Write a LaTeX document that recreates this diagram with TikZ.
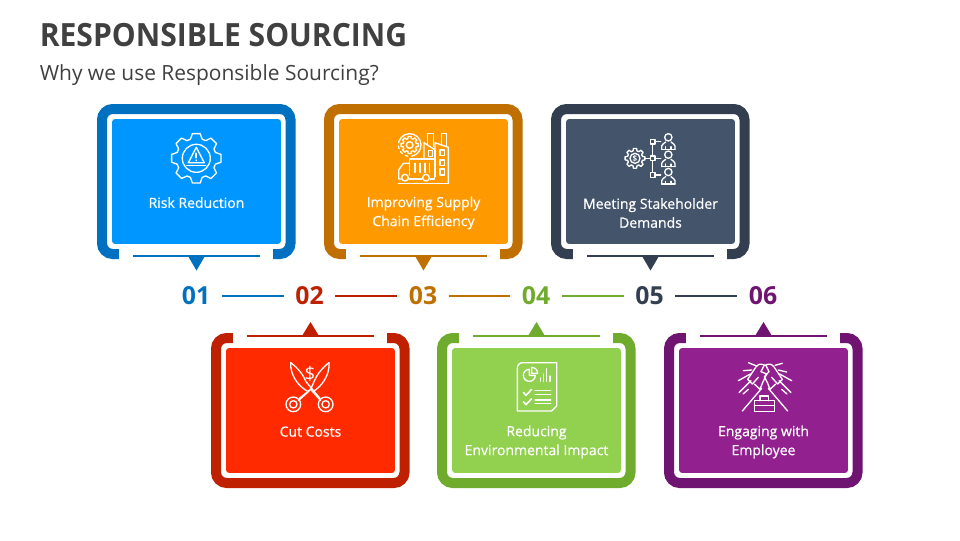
\documentclass[tikz,border=0pt]{standalone}
\usepackage{fontspec}
\setmainfont{Open Sans}
\newfontfamily\semib[FakeBold=0.6]{Open Sans}
\newfontfamily\titlef[FakeStretch=0.94]{Open Sans Bold}
\definecolor{dkA}{HTML}{0070C0}\definecolor{brA}{HTML}{0096FF}
\definecolor{dkB}{HTML}{BF2000}\definecolor{brB}{HTML}{FF2A00}
\definecolor{dkC}{HTML}{BF7000}\definecolor{brC}{HTML}{FF9900}
\definecolor{dkD}{HTML}{6FAC2E}\definecolor{brD}{HTML}{92D050}
\definecolor{dkE}{HTML}{333F50}\definecolor{brE}{HTML}{44546A}
\definecolor{dkF}{HTML}{6F1470}\definecolor{brF}{HTML}{92208F}
\definecolor{titlegray}{HTML}{404040}
\tikzset{
 panel/.style={rounded corners=2pt,inner sep=0pt,minimum width=126.5pt,minimum height=93.5pt},
 frame/.style={line width=7.5pt,rounded corners=8pt},
 caption/.style={text=white,font=\semib\fontsize{10.5}{14.2}\selectfont,align=center,inner sep=0pt},
 num/.style={font=\bfseries\fontsize{18.6}{20}\selectfont,minimum width=38pt,inner sep=0pt},
 link/.style={line width=1.4pt},
 ico/.style={draw=white,line width=1pt,line join=round,line cap=round},
 zoomed/.style={x=.25pt,y=-.25pt},
}
% #1 name, #2 left x, #3 dark, #4 bright, #5 text
\newcommand{\uppercard}[5]{%
 \draw[#3,frame] (#2+5,109) rectangle (#2+193.5,254);
 \fill[white] (#2+22,248) rectangle (#2+176,260);
 \node[panel,fill=#4] (#1) at (#2+99.5,181.5) {};
 \node[caption,anchor=center] (#1t) at (#2+99.5,213) {#5};
 \draw[#3,line width=1.5pt] (#2+36,256) -- (#2+163,256);
 \fill[#3] (#2+91,256) -- (#2+108,256) -- (#2+99.5,270.5) -- cycle;
}
\newcommand{\lowercard}[5]{%
 \draw[#3,frame] (#2+5,338) rectangle (#2+193.5,483);
 \fill[white] (#2+22,332) rectangle (#2+176,344);
 \node[panel,fill=#4] (#1) at (#2+99.5,410.5) {};
 \node[caption,anchor=center] (#1t) at (#2+99.5,442) {#5};
 \draw[#3,line width=1.5pt] (#2+36,336) -- (#2+163,336);
 \fill[#3] (#2+91,336) -- (#2+108,336) -- (#2+99.5,322) -- cycle;
}
\newcommand{\numtxt}[1]{\raisebox{-.4pt}{#1}}
\begin{document}
\begin{tikzpicture}[x=.75pt,y=-.75pt]
\useasboundingbox (0,0) rectangle (960,540);
\fill[white] (0,0) rectangle (960,540);
\node[anchor=base west,inner sep=0pt,text=titlegray,font=\titlef\fontsize{24}{28}\selectfont] (title) at (39.5,46) {RESPONSIBLE SOURCING};
\node[anchor=base west,inner sep=0pt,text=titlegray,font=\fontsize{15.7}{18}\selectfont] (sub) at (39.5,80.5) {Why we use Responsible Sourcing?};

\uppercard{cA}{97}{dkA}{brA}{Risk Reduction\\[1.5pt]\phantom{x}}
\uppercard{cC}{324}{dkC}{brC}{Improving Supply\\Chain Efficiency}
\uppercard{cE}{551}{dkE}{brE}{Meeting Stakeholder\\Demands}
\lowercard{cB}{211}{dkB}{brB}{Cut Costs\\[1.5pt]\phantom{x}}
\lowercard{cD}{437}{dkD}{brD}{Reducing\\Environmental Impact}
\lowercard{cF}{664}{dkF}{brF}{Engaging with\\Employee}

\node[num,text=dkA] (n1) at (196,296) {\numtxt{01}};
\node[num,text=dkB] (n2) at (309.5,296) {\numtxt{02}};
\node[num,text=dkC] (n3) at (423,296) {\numtxt{03}};
\node[num,text=dkD] (n4) at (536,296) {\numtxt{04}};
\node[num,text=dkE] (n5) at (649.5,296) {\numtxt{05}};
\node[num,text=dkF] (n6) at (763,296) {\numtxt{06}};
\draw[link,dkA] (n1) -- (n2);
\draw[link,dkB] (n2) -- (n3);
\draw[link,dkC] (n3) -- (n4);
\draw[link,dkD] (n4) -- (n5);
\draw[link,dkE] (n5) -- (n6);

% gear / warning
\begin{scope}[shift={(196.3,158.3)}]
 \draw[ico] \foreach \a in {0,45,...,315}{ (\a-17:20) -- (\a-9:25) -- (\a+9:25) -- (\a+17:20) -- (\a+28:20)};
 \draw[ico] (0,0) circle (14);
 \draw[ico] (0,-11) -- (8,4.5) -- (-8,4.5) -- cycle;
 \draw[ico,line width=1.3pt] (0,-5) -- (0,-.5); \fill[white] (0,2) circle (.9);
 \draw[ico] (-9.5,7.5) -- (9.5,7.5);
\end{scope}

% factory + truck
\begin{scope}[shift={(320,95)},zoomed]
 \draw[ico] (323,147) -- (323,115) -- (340,115) -- (340,155);
 \draw[ico] (365,150) -- (365,115) -- (380,115) -- (380,155);
 \draw[ico] (312,190) -- (312,143) -- (345,165) -- (345,143) -- (385,157) -- (385,265);
 \draw[ico] (345,165) -- (345,245);
 \draw[ico] (325,167) rectangle (338,185);
 \draw[ico] (360,165) rectangle (373,182);
 \draw[ico] (360,195) rectangle (373,212);
 \draw[ico] (360,222) rectangle (373,240);
 \draw[ico] (268,240) -- (268,192) -- (343,192) -- (343,252) -- (330,252);
 \foreach \x in {285,300,315,328} \draw[ico] (\x,205) -- (\x,232);
 \draw[ico] (268,205) -- (250,205) -- (236,225) -- (236,252) -- (244,252);
 \draw[ico] (266,252) -- (306,252);
 \draw[ico] (255,248) circle (10);
 \draw[ico] (318,248) circle (10);
 \draw[ico] (235,265) -- (385,265);
 \begin{scope}[shift={(269,150)}]
  \draw[ico] \foreach \a in {0,45,...,315}{ (\a-15:20) -- (\a-10:26) -- (\a+10:26) -- (\a+15:20) -- (\a+30:20)};
  \draw[ico] (0,0) circle (10);
  \draw[ico] (200:34) arc (200:440:34);
  \draw[ico,dash pattern=on 2pt off 2.5pt] (100:34) arc (100:200:34);
 \end{scope}
\end{scope}

% gear + people
\begin{scope}[shift={(600,120)},zoomed]
 \begin{scope}[shift={(105,115)}]
  \draw[ico] \foreach \a in {0,45,...,315}{ (\a-15:23) -- (\a-9:30) -- (\a+9:30) -- (\a+15:23) -- (\a+30:23)};
  \draw[ico] (0,0) circle (15);
  \node[text=white,font=\bfseries\fontsize{6}{6}\selectfont,inner sep=0pt] (dollarB) at (0,0) {\$};
 \end{scope}
 \draw[ico] (158,65) -- (158,165);
 \draw[ico] (135,115) -- (150,115);
 \foreach \y in {65,115,165}{
  \draw[ico,fill=brE] (151,\y-7) rectangle (165,\y+7);
  \draw[ico] (165,\y) -- (182,\y);
 }
 \foreach \y in {0,52,104}{
  \draw[ico] (205,52+\y) circle (11);
  \draw[ico] (185,88+\y) -- (185,78+\y) .. controls (185,72+\y) and (192,72+\y) .. (197,66+\y);
  \draw[ico] (225,88+\y) -- (225,78+\y) .. controls (225,72+\y) and (218,72+\y) .. (213,66+\y);
  \draw[ico] (185,88+\y) -- (225,88+\y);
  \draw[ico] (197,80+\y) -- (197,88+\y) (213,80+\y) -- (213,88+\y);
 }
\end{scope}

% scissors
\begin{scope}[shift={(270,350)},zoomed]
 \draw[ico] (62,38) .. controls (85,55) and (100,75) .. (108,95) -- (150,145);
 \draw[ico] (62,38) .. controls (60,75) and (85,110) .. (115,125) -- (120,118);
 \draw[ico] (177,38) .. controls (155,55) and (140,75) .. (132,95) -- (122,118) -- (88,145);
 \draw[ico] (177,38) .. controls (180,75) and (155,110) .. (128,125) -- (122,118);
 \draw[ico] (115,125) -- (85,152);
 \draw[ico] (128,125) -- (152,152);
 \draw[ico] (70,163) circle (22);
 \draw[ico] (70,163) circle (11);
 \draw[ico] (167,163) circle (22);
 \draw[ico] (167,163) circle (11);
 \node[text=white,font=\fontsize{14}{14}\selectfont,inner sep=0pt] (dollarA) at (120,73) {\$};
\end{scope}

% report
\begin{scope}[shift={(500,350)},zoomed]
 \draw[ico] (52,55) .. controls (52,45) and (58,38) .. (68,38) -- (170,38) -- (170,168) -- (155,183) -- (52,183) -- cycle;
 \draw[ico] (88,58) arc (-90:-360:18) -- (88,76) -- cycle;
 \draw[ico] (95,52) -- (95,70) -- (113,70) arc (0:-90:18);
 \foreach \x/\h in {122/10,130/22,139/38,150/16} \draw[ico] (\x,94) -- (\x,94-\h);
 \foreach \y in {0,28}{
  \draw[ico,line width=1.2pt] (70,127+\y) -- (78,136+\y) -- (95,118+\y);
  \draw[ico] (105,122+\y) -- (152,122+\y) (105,133+\y) -- (152,133+\y);
 }
\end{scope}

% high five + briefcase
\begin{scope}[shift={(725,350)},zoomed]
 \draw[ico] (118,45) .. controls (105,40) and (100,42) .. (92,52) -- (68,88) -- (82,102) -- (100,82);
 \draw[ico] (118,45) -- (108,65) -- (125,72) -- (112,100) -- (105,118) -- (88,102);
 \draw[ico] (122,45) .. controls (135,40) and (140,42) .. (148,52) -- (172,88) -- (158,102) -- (140,82);
 \draw[ico] (122,45) -- (132,65) -- (118,80) -- (128,100) -- (135,118) -- (152,102);
 \draw[ico] (40,92) -- (76,72);
 \draw[ico] (200,92) -- (164,72);
 \draw[ico] (42,128) -- (78,92);
 \draw[ico] (198,128) -- (162,92);
 \draw[ico] (54,132) -- (70,118) (186,132) -- (170,118);
 \draw[ico] (52,183) -- (110,115) (188,183) -- (130,115);
 \draw[ico] (70,38) -- (95,48) (55,62) -- (80,60) (172,40) -- (150,46) (185,66) -- (160,60);
 \draw[ico] (88,152) rectangle (148,184);
 \draw[ico] (88,166) -- (148,166);
 \draw[ico] (105,152) -- (105,138) -- (130,138) -- (130,152);
\end{scope}
\end{tikzpicture}
\end{document}
